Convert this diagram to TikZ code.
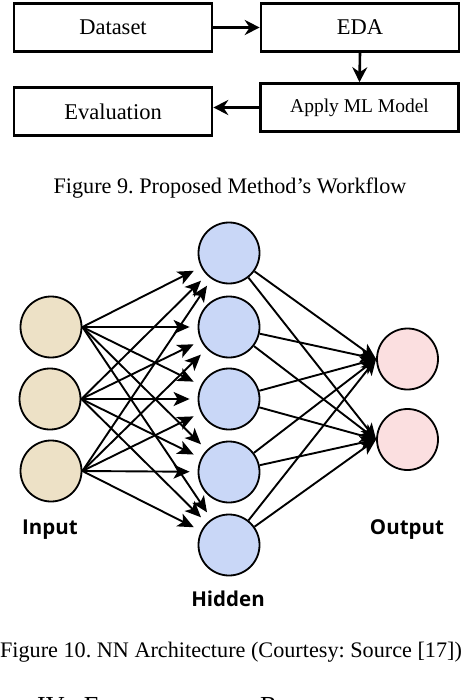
\documentclass[tikz,border=0pt]{standalone}
\usepackage{fontspec}
\setmainfont{Liberation Serif}
\newfontfamily\labfont{Open Sans}
\usetikzlibrary{arrows.meta}
\definecolor{intan}{HTML}{EDE1C6}
\definecolor{hidblue}{HTML}{C9D7F7}
\definecolor{outpink}{HTML}{FBDFE0}
\frenchspacing
\begin{document}
\begin{tikzpicture}[x=1pt,y=-1pt,
  flowbox/.style={draw=black,line width=2.6pt,minimum width=198pt,minimum height=48pt,inner sep=0pt,font=\fontsize{22.5}{26}\selectfont},
  flowarrow/.style={line width=2.6pt,-{Stealth[length=15pt,width=15pt,inset=5pt]}},
  neuron/.style={circle,draw=black,line width=1.8pt,minimum size=61pt,inner sep=0pt},
  nnarrow/.style={line width=1.9pt,-{Stealth[length=16pt,width=14pt,inset=4pt]}},
  lab/.style={font=\labfont\bfseries\fontsize{20.5}{24}\selectfont},
  capt/.style={font=\fontsize{22.2}{26}\selectfont}]
\useasboundingbox (0,0) rectangle (462,700);
% workflow
\node[flowbox] (ds) at (113,27.5) {Dataset};
\node[flowbox] (eda) at (360,27.5) {EDA};
\node[flowbox,font=\fontsize{19.5}{23}\selectfont] (ml) at (359.5,107.5) {Apply ML Model};
\node[flowbox] (ev) at (113,111.5) {Evaluation};
\draw[flowarrow] (ds.east) -- (eda.west);
\draw[flowarrow] (eda.south) -- (ml.north);
\draw[flowarrow] (ml.west) -- (ev.east |- ml.west);
\node[capt] (cap9) at (230,188) {Figure 9. Proposed Method’s Workflow};
% neural network
\node[neuron,fill=intan] (i1) at (51,327) {};
\node[neuron,fill=intan] (i2) at (50,399) {};
\node[neuron,fill=intan] (i3) at (51,471) {};
\node[neuron,fill=hidblue] (h1) at (229,253) {};
\node[neuron,fill=hidblue] (h2) at (229,327) {};
\node[neuron,fill=hidblue] (h3) at (229,399) {};
\node[neuron,fill=hidblue] (h4) at (229,472) {};
\node[neuron,fill=hidblue] (h5) at (229,545) {};
\node[neuron,fill=outpink] (o1) at (407.5,359) {};
\node[neuron,fill=outpink] (o2) at (407.5,439.5) {};
\foreach \i in {1,2,3}{
  \foreach \h in {1,...,5}{
    \draw[nnarrow,shorten >=8pt] (i\i.east) -- (h\h);
  }
}
\foreach \h in {1,...,5}{
  \foreach \o in {1,2}{
    \draw[nnarrow] (h\h) -- (o\o.west);
  }
}
\node[lab] (linput) at (50,530) {Input};
\node[lab] (lhidden) at (228,599) {Hidden};
\node[lab] (loutput) at (407,530) {Output};
\node[capt] (cap10) at (231,652) {Figure 10. NN Architecture (Courtesy: Source [17])};
\node[anchor=base west,inner sep=0pt,font=\fontsize{26}{30}\selectfont] (sec) at (37,714)
  {IV.\hspace{16pt}E{\fontsize{21}{24}\selectfont XPERIMENTAL}\hspace{14pt}R{\fontsize{21}{24}\selectfont ESULTS}};
\end{tikzpicture}
\end{document}
